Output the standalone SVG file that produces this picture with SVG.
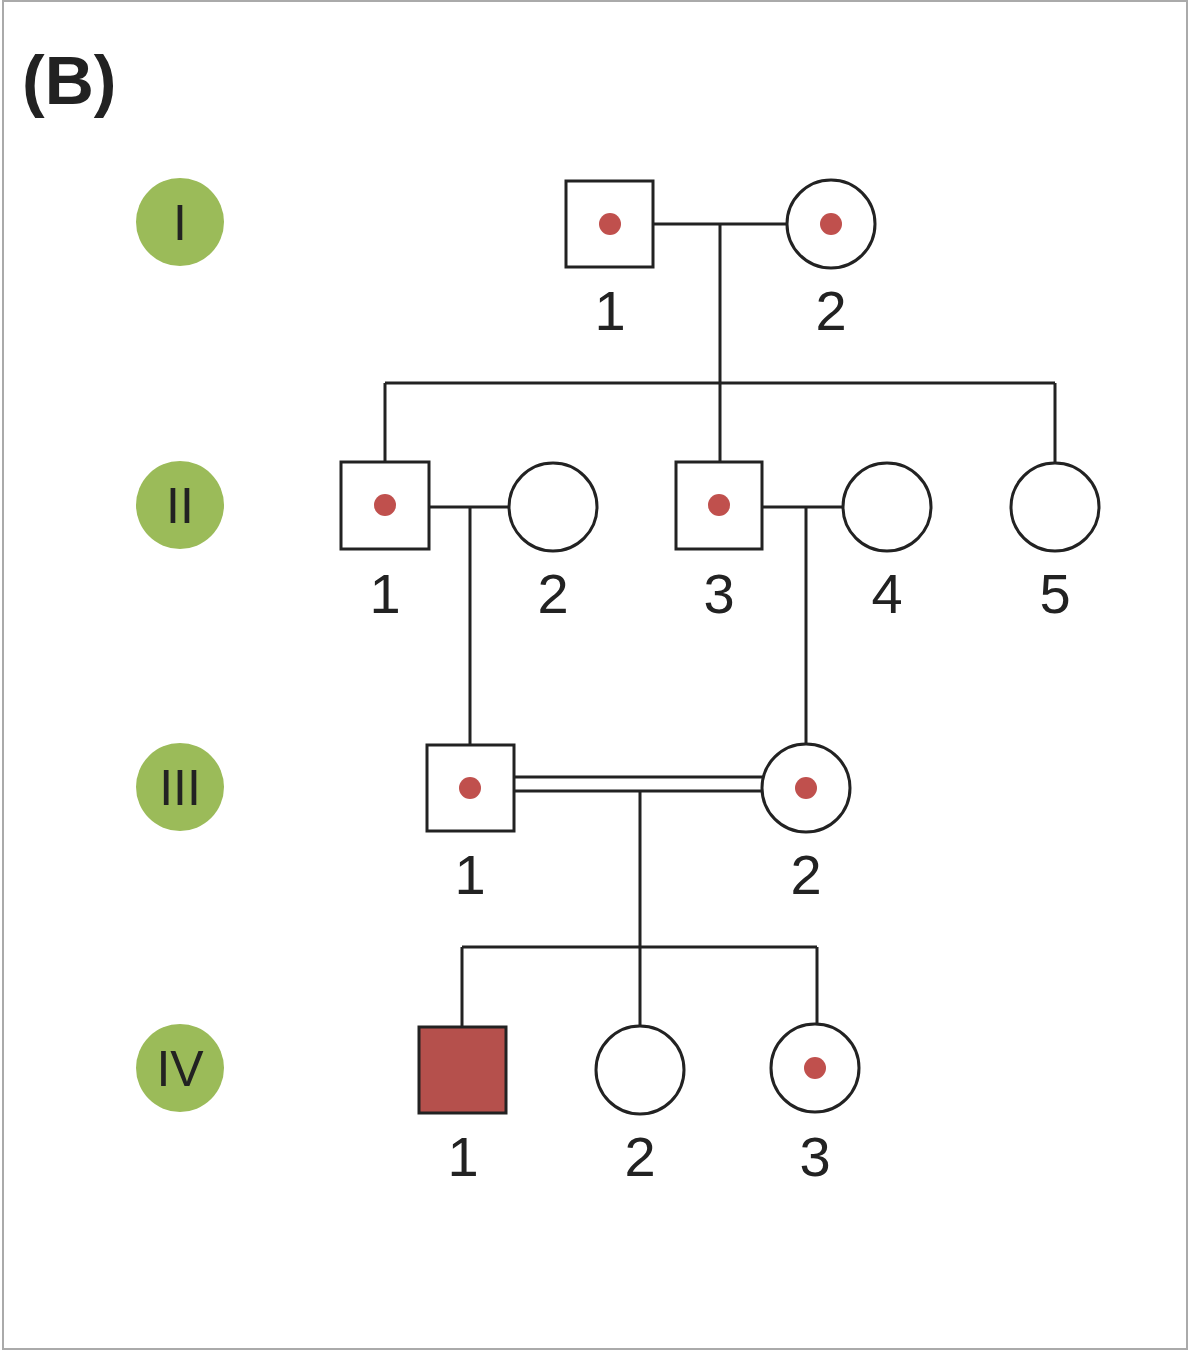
<svg xmlns="http://www.w3.org/2000/svg" width="1190" height="1352" viewBox="0 0 1190 1352">
<style>
.s{fill:#fff;stroke:#222;stroke-width:3}
.l{stroke:#222;stroke-width:3;fill:none}
.d{fill:#c0504d}
.g{fill:#9bbb59}
.gt{font-family:"Liberation Sans",sans-serif;font-size:50px;fill:#222;text-anchor:middle}
.n{font-family:"Liberation Sans",sans-serif;font-size:56px;fill:#222;text-anchor:middle}
</style>
<rect x="3" y="1" width="1184" height="1348" fill="#fff" stroke="#aaa" stroke-width="2"/>
<text x="22" y="104" font-family="Liberation Sans,sans-serif" font-size="68" font-weight="bold" fill="#222">(B)</text>
<g id="gen">
<circle class="g" cx="180" cy="222" r="44"/><text class="gt" x="180" y="240">I</text>
<circle class="g" cx="180" cy="505" r="44"/><text class="gt" x="180" y="523">II</text>
<circle class="g" cx="180" cy="787" r="44"/><text class="gt" x="180" y="805">III</text>
<circle class="g" cx="180" cy="1068" r="44"/><text class="gt" x="180" y="1086">IV</text>
</g>
<g id="connectors">
<path class="l" d="M653 224H787M720 224V383M385 383H1055M385 383V462M720 383V462M1055 383V463"/>
<path class="l" d="M429 507H509M470 507V745M762 507H843M806 507V744"/>
<path class="l" d="M514 777H764M514 791H764M640 791V947M462 947H817M462 947V1027M640 947V1026M817 947V1024"/>
</g>
<g id="I-1"><rect class="s" x="566" y="181" width="87" height="86"/><circle class="d" cx="610" cy="224" r="11"/><text class="n" x="610" y="330">1</text></g>
<g id="I-2"><circle class="s" cx="831" cy="224" r="44"/><circle class="d" cx="831" cy="224" r="11"/><text class="n" x="831" y="330">2</text></g>
<g id="II-1"><rect class="s" x="341" y="462" width="88" height="87"/><circle class="d" cx="385" cy="505" r="11"/><text class="n" x="385" y="613">1</text></g>
<g id="II-2"><circle class="s" cx="553" cy="507" r="44"/><text class="n" x="553" y="613">2</text></g>
<g id="II-3"><rect class="s" x="676" y="462" width="86" height="87"/><circle class="d" cx="719" cy="505" r="11"/><text class="n" x="719" y="613">3</text></g>
<g id="II-4"><circle class="s" cx="887" cy="507" r="44"/><text class="n" x="887" y="613">4</text></g>
<g id="II-5"><circle class="s" cx="1055" cy="507" r="44"/><text class="n" x="1055" y="613">5</text></g>
<g id="III-1"><rect class="s" x="427" y="745" width="87" height="86"/><circle class="d" cx="470" cy="788" r="11"/><text class="n" x="470" y="894">1</text></g>
<g id="III-2"><circle class="s" cx="806" cy="788" r="44"/><circle class="d" cx="806" cy="788" r="11"/><text class="n" x="806" y="894">2</text></g>
<g id="IV-1"><rect x="419" y="1027" width="87" height="86" fill="#b5504c" stroke="#222" stroke-width="3"/><text class="n" x="463" y="1176">1</text></g>
<g id="IV-2"><circle class="s" cx="640" cy="1070" r="44"/><text class="n" x="640" y="1176">2</text></g>
<g id="IV-3"><circle class="s" cx="815" cy="1068" r="44"/><circle class="d" cx="815" cy="1068" r="11"/><text class="n" x="815" y="1176">3</text></g>
</svg>
